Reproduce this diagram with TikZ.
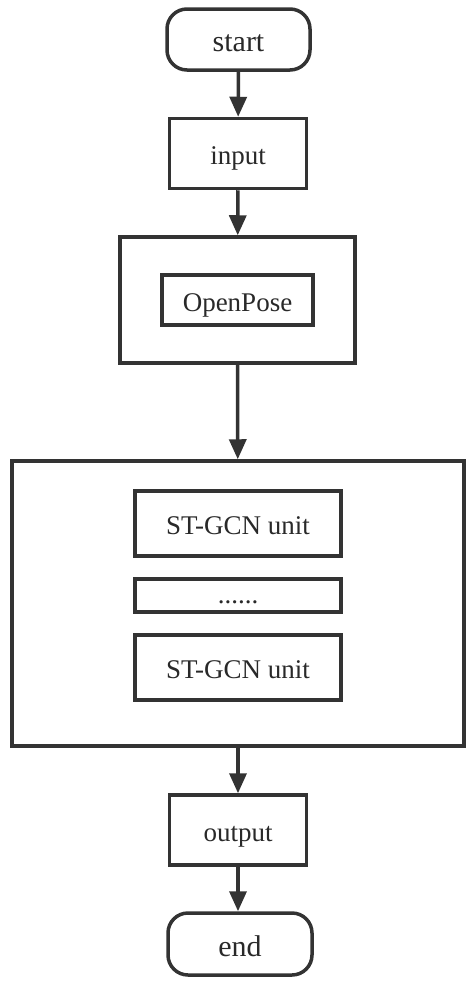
\documentclass[tikz,border=0pt]{standalone}
\usepackage{fontspec}
\setmainfont{Liberation Serif}
\usetikzlibrary{arrows.meta}
\definecolor{ln}{HTML}{333333}
\tikzset{
  box/.style={draw=ln, line width=3.5pt, inner sep=0pt, font=\fontsize{27}{32}\selectfont, text=ln!80!black, text height=22pt, text depth=0pt},
  term/.style={box, rounded corners=20pt, font=\fontsize{30}{36}\selectfont, text height=24pt},
  conn/.style={draw=ln, line width=3.5pt, -{Triangle[length=20pt,width=17pt]}}
}
\begin{document}
\begin{tikzpicture}[x=1pt,y=-1pt]
\useasboundingbox (0,0) rectangle (474,988);
\node[term, minimum width=143pt, minimum height=61pt] (start) at (238.5,39.5) {start};
\node[box, minimum width=137pt, minimum height=70pt] (input) at (238,153.5) {input};
\node[box, minimum width=235pt, minimum height=126pt] (outer) at (237.5,300) {};
\node[box, minimum width=151pt, minimum height=50pt] (openpose) at (237.5,300) {OpenPose};
\node[box, minimum width=452pt, minimum height=285pt] (big) at (238,603.5) {};
\node[box, minimum width=206pt, minimum height=65pt] (st1) at (238,523.5) {ST-GCN unit};
\node[box, minimum width=206pt, minimum height=33pt, text height=15pt] (dots) at (238,595.5) {......};
\node[box, minimum width=206pt, minimum height=65pt] (st2) at (238,667.5) {ST-GCN unit};
\node[box, minimum width=137pt, minimum height=70pt] (output) at (238,830) {output};
\node[term, minimum width=144pt, minimum height=62pt] (end) at (240,944) {end};
\draw[conn] (start) -- (input);
\draw[conn] (input) -- (outer);
\draw[conn] (outer) -- (big);
\draw[conn] (big) -- (output);
\draw[conn] (output) -- (output |- end.north);
\end{tikzpicture}
\end{document}
